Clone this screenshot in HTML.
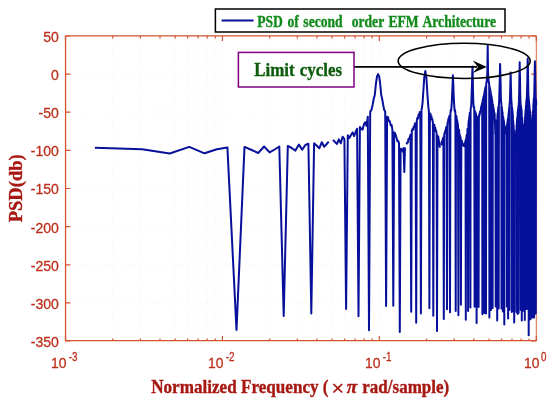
<!DOCTYPE html>
<html><head><meta charset="utf-8"><title>PSD of second order EFM Architecture</title>
<style>
html,body{margin:0;padding:0;background:#fff;}
body{width:550px;height:405px;overflow:hidden;}
svg{display:block;}
.tick text{font-family:"Liberation Sans",Arial,Helvetica,sans-serif;font-size:15.2px;fill:#bd2e1a;stroke:#bd2e1a;stroke-width:.3px;}
.tick .sup{font-size:12.6px;}
.lab{font-family:"Liberation Serif","Times New Roman",Times,serif;font-weight:bold;fill:#a81812;font-size:18px;stroke:#a81812;stroke-width:.35px;}
.leg{font-family:"Liberation Serif","Times New Roman",Times,serif;font-weight:bold;fill:#128a1c;font-size:16px;stroke:#128a1c;stroke-width:.35px;}
.ann{font-family:"Liberation Serif","Times New Roman",Times,serif;font-weight:bold;fill:#0d5c0d;font-size:18.7px;stroke:#0d5c0d;stroke-width:.35px;}
</style></head><body>
<svg width="550" height="405" viewBox="0 0 550 405">
<rect width="550" height="405" fill="#fff"/>
<path d="M112.7 36.0V341.0M140.4 36.0V341.0M160.0 36.0V341.0M175.2 36.0V341.0M187.6 36.0V341.0M198.1 36.0V341.0M207.2 36.0V341.0M215.3 36.0V341.0M222.4 36.0V341.0M269.7 36.0V341.0M297.3 36.0V341.0M316.9 36.0V341.0M332.1 36.0V341.0M344.6 36.0V341.0M355.1 36.0V341.0M364.2 36.0V341.0M372.2 36.0V341.0M379.4 36.0V341.0M426.6 36.0V341.0M454.2 36.0V341.0M473.8 36.0V341.0M489.1 36.0V341.0M501.5 36.0V341.0M512.0 36.0V341.0M521.1 36.0V341.0M529.1 36.0V341.0M65.5 74.1H536.3M65.5 112.2H536.3M65.5 150.4H536.3M65.5 188.5H536.3M65.5 226.6H536.3M65.5 264.8H536.3M65.5 302.9H536.3" stroke="#c8642f" stroke-opacity="0.05" stroke-width="1" stroke-dasharray="1.5 1.5" fill="none"/>
<path d="M65.55 35.8V340.7H536.4" stroke="#d5532f" stroke-width="1.3" fill="none"/>
<path d="M65.55 35.8H536.4" stroke="#d5532f" stroke-width="1.3" fill="none"/>
<path d="M536.4 35.8V340.7" stroke="#d5532f" stroke-opacity="0.7" stroke-width="1.3" fill="none"/>
<path d="M65.5 341.0v-5M65.5 36.0v5M112.7 341.0v-2.5M112.7 36.0v2.5M140.4 341.0v-2.5M140.4 36.0v2.5M160.0 341.0v-2.5M160.0 36.0v2.5M175.2 341.0v-2.5M175.2 36.0v2.5M187.6 341.0v-2.5M187.6 36.0v2.5M198.1 341.0v-2.5M198.1 36.0v2.5M207.2 341.0v-2.5M207.2 36.0v2.5M215.3 341.0v-2.5M215.3 36.0v2.5M222.4 341.0v-5M222.4 36.0v5M269.7 341.0v-2.5M269.7 36.0v2.5M297.3 341.0v-2.5M297.3 36.0v2.5M316.9 341.0v-2.5M316.9 36.0v2.5M332.1 341.0v-2.5M332.1 36.0v2.5M344.6 341.0v-2.5M344.6 36.0v2.5M355.1 341.0v-2.5M355.1 36.0v2.5M364.2 341.0v-2.5M364.2 36.0v2.5M372.2 341.0v-2.5M372.2 36.0v2.5M379.4 341.0v-5M379.4 36.0v5M426.6 341.0v-2.5M426.6 36.0v2.5M454.2 341.0v-2.5M454.2 36.0v2.5M473.8 341.0v-2.5M473.8 36.0v2.5M489.1 341.0v-2.5M489.1 36.0v2.5M501.5 341.0v-2.5M501.5 36.0v2.5M512.0 341.0v-2.5M512.0 36.0v2.5M521.1 341.0v-2.5M521.1 36.0v2.5M529.1 341.0v-2.5M529.1 36.0v2.5M536.3 341.0v-5M536.3 36.0v5M65.5 36.0h5M536.3 36.0h-5M65.5 74.1h5M536.3 74.1h-5M65.5 112.2h5M536.3 112.2h-5M65.5 150.4h5M536.3 150.4h-5M65.5 188.5h5M536.3 188.5h-5M65.5 226.6h5M536.3 226.6h-5M65.5 264.8h5M536.3 264.8h-5M65.5 302.9h5M536.3 302.9h-5M65.5 341.0h5M536.3 341.0h-5" stroke="#d5532f" stroke-width="1.2" fill="none"/>
<path d="M94.9 147.7 L142.1 149.2 L169.7 153.5 L189.3 146.9 L204.5 153.3 L216.9 149.2 L227.4 147.4 L236.5 330.0 L244.5 146.9 L251.7 150.0 L258.2 153.0 L264.1 146.5 L269.6 152.4 L274.6 149.5 L279.3 146.5 L283.7 316.0 L287.8 145.9 L291.7 148.0 L295.4 150.6 L298.9 144.6 L302.2 149.6 L305.4 145.0 L308.4 143.7 L311.3 313.5 L314.1 143.3 L316.8 145.8 L319.3 148.3 L321.8 142.2 L324.2 146.7 L326.5 144.2 L328.7 141.7 M333.0 139.8 L335.0 142.0 L337.0 143.9 L338.9 139.4 L340.8 143.3 L342.6 136.7 L344.4 139.0 L346.1 308.9 L347.8 135.2 L349.4 138.0 L351.0 135.0 L352.6 132.4 L354.1 136.1 L355.6 132.0 L357.1 128.7 L358.5 316.3 L359.9 126.9 L361.3 129.0 L362.6 129.6 L364.0 124.0 L365.3 122.2 L366.5 125.9 L367.8 116.7 L369.0 330.2 L370.2 111.5 L371.4 110.3 L372.6 105.0 L373.7 99.0 L374.8 95.0 L375.9 84.0 L377.0 76.5 L378.1 74.1 L379.2 76.5 L380.2 84.0 L381.2 95.0 L382.2 99.0 L383.2 105.0 L384.2 110.0 L385.2 111.5 L386.1 306.1 L387.1 116.7 L388.0 117.1 L388.9 121.0 L389.8 121.3 L390.7 125.4 L391.6 125.0 L392.4 129.6 L393.3 305.7 L394.2 132.3 L395.0 133.2 L395.8 135.2 L396.6 138.1 L397.4 141.2 L398.2 141.0 L399.0 143.2 L399.8 332.0 L400.6 148.8 L401.3 148.9 L402.1 149.5 L402.8 151.6 L403.6 148.1 L404.3 172.0 L405.0 147.4 M406.4 144.3 L407.1 142.7 L407.8 142.5 L408.5 139.0 L409.2 138.6 L409.8 137.2 L410.5 134.8 L411.2 311.7 L411.8 130.7 L412.5 129.0 L413.1 129.8 L413.7 126.5 L414.4 127.0 L415.0 123.2 L415.6 124.2 L416.2 322.8 L416.8 121.0 L417.4 117.8 L418.0 118.5 L418.6 114.5 L419.2 115.6 L419.8 112.0 L420.3 113.1 L420.9 313.5 L421.5 109.9 L422.0 107.6 L422.6 102.3 L423.1 94.8 L423.7 86.1 L424.2 77.8 L424.8 74.4 L425.3 71.1 L425.8 74.5 L426.4 77.8 L426.9 85.8 L427.4 94.1 L427.9 100.8 L428.4 107.4 L428.9 111.4 L429.4 308.2 L429.9 113.9 L430.4 113.5 L430.9 116.7 L431.4 116.2 L431.9 119.5 L432.4 119.3 L432.9 123.0 L433.3 315.7 L433.8 125.9 L434.3 124.7 L434.7 128.6 L435.2 127.7 L435.7 131.2 L436.1 130.3 L436.6 133.8 L437.0 331.1 L437.5 135.4 L437.9 137.3 L438.3 136.8 L438.8 140.6 L439.2 142.7 L439.6 146.0 L440.1 147.6 M440.9 145.0 L441.4 144.7 L441.8 141.6 L442.2 141.8 L442.6 139.8 L443.0 138.5 L443.4 137.2 L443.8 319.1 L444.2 134.4 L444.6 133.2 L445.0 132.2 L445.4 130.2 L445.8 130.3 L446.2 127.0 L446.6 127.8 L447.0 309.3 L447.4 125.1 L447.8 121.5 L448.1 121.9 L448.5 118.4 L448.9 119.1 L449.3 115.9 L449.7 116.8 L450.0 312.3 L450.4 113.4 L450.8 109.9 L451.1 110.7 L451.5 106.6 L451.8 101.7 L452.2 93.2 L452.6 84.2 L452.9 75.3 L453.3 84.6 L453.6 93.8 L454.0 102.1 L454.3 106.8 L454.7 111.0 L455.0 110.2 L455.4 113.5 L455.7 310.9 L456.0 116.7 L456.4 116.1 L456.7 120.1 L457.1 119.9 L457.4 123.5 L457.7 122.8 L458.0 126.7 L458.4 315.3 L458.7 129.5 L459.0 129.6 L459.3 133.3 L459.7 134.7 L460.0 136.0 L460.3 136.4 L460.6 137.9 L460.9 304.8 L461.3 140.9 L461.6 140.3 L461.9 141.3 L462.2 142.8 L462.5 143.7 L462.8 145.3 L463.1 145.5 M463.7 147.0 L464.0 145.7 L464.3 145.4 L464.6 143.3 L464.9 144.8 L465.2 142.9 L465.5 140.4 L465.8 319.8 L466.1 138.9 L466.4 137.5 L466.7 134.8 L467.0 135.0 L467.3 133.4 L467.5 128.8 L467.8 129.0 L468.1 310.9 L468.4 124.7 L468.7 120.8 L469.0 120.9 L469.2 117.2 L469.5 117.0 L469.8 112.7 L470.1 114.0 L470.4 307.5 L470.6 110.4 L470.9 107.0 L471.2 106.6 L471.4 101.4 L471.7 92.6 L472.0 83.9 L472.2 75.2 L472.5 66.5 L472.8 78.3 L473.0 90.0 L473.3 101.7 L473.6 106.5 L473.8 107.5 L474.1 106.9 L474.3 110.5 L474.6 306.8 L474.9 112.6 L475.1 111.2 L475.4 114.0 L475.6 112.7 L475.9 115.4 L476.1 114.4 L476.4 117.1 L476.6 323.1 L476.9 118.4 L477.1 116.8 L477.4 120.2 L477.6 118.8 L477.9 121.1 L478.1 118.2 L478.4 119.6 L478.6 307.0 L478.9 117.7 L479.1 115.0 L479.3 116.4 L479.6 113.2 L479.8 114.3 L480.1 111.3 L480.3 112.4 M480.8 110.8 L481.0 107.1 L481.2 107.2 L481.5 106.2 L481.7 105.1 L481.9 104.1 L482.2 103.0 L482.4 314.2 L482.6 100.9 L482.9 99.9 L483.1 98.9 L483.3 97.8 L483.5 96.8 L483.8 95.8 L484.0 94.7 L484.2 313.0 L484.4 92.6 L484.7 91.6 L484.9 90.5 L485.1 89.5 L485.3 88.4 L485.5 87.4 L485.8 86.4 L486.0 313.5 L486.2 84.3 L486.4 83.3 L486.6 82.3 L486.9 80.0 L487.1 77.1 L487.3 74.3 L487.5 60.3 L487.7 45.2 L487.9 60.8 L488.1 74.4 L488.3 77.2 L488.6 80.0 L488.8 82.3 L489.0 83.4 L489.2 84.5 L489.4 317.4 L489.6 86.6 L489.8 87.7 L490.0 88.8 L490.2 89.8 L490.4 90.9 L490.6 91.9 L490.8 93.0 L491.0 310.0 L491.2 95.1 L491.4 96.1 L491.6 97.2 L491.8 98.4 L492.0 99.6 L492.2 100.7 L492.4 101.9 L492.6 308.0 L492.8 104.2 L493.0 105.4 L493.2 106.5 L493.4 107.7 L493.6 110.3 L493.8 109.3 L494.0 112.6 M494.4 114.3 L494.6 113.2 L494.8 119.7 L495.0 122.2 L495.2 129.3 L495.3 134.0 L495.5 133.8 L495.7 306.5 L495.9 130.6 L496.1 126.9 L496.3 126.8 L496.5 123.4 L496.7 124.2 L496.9 120.2 L497.0 120.8 L497.2 320.5 L497.4 117.0 L497.6 113.7 L497.8 114.0 L498.0 110.6 L498.1 111.4 L498.3 107.2 L498.5 106.8 L498.7 308.5 L498.9 103.8 L499.1 102.3 L499.2 99.8 L499.4 92.6 L499.6 85.4 L499.8 78.3 L499.9 71.2 L500.1 64.1 L500.3 71.6 L500.5 79.0 L500.7 86.4 L500.8 93.8 L501.0 101.0 L501.2 102.5 L501.4 104.0 L501.5 308.5 L501.7 106.9 L501.9 107.2 L502.0 111.3 L502.2 110.4 L502.4 113.6 L502.6 112.8 L502.7 116.1 L502.9 311.5 L503.1 118.6 L503.2 116.9 L503.4 120.7 L503.6 119.6 L503.7 122.5 L503.9 121.1 L504.1 124.4 L504.3 324.4 L504.4 126.0 L504.6 125.5 L504.8 128.4 L504.9 127.1 L505.1 130.6 L505.2 129.0 L505.4 132.5 M505.7 132.2 L505.9 133.3 L506.1 132.2 L506.2 130.3 L506.4 131.6 L506.5 128.0 L506.7 129.2 L506.9 306.5 L507.0 127.3 L507.2 123.5 L507.4 124.6 L507.5 121.3 L507.7 122.6 L507.8 118.9 L508.0 120.4 L508.1 318.6 L508.3 117.8 L508.5 114.4 L508.6 115.1 L508.8 111.6 L508.9 111.9 L509.1 108.0 L509.2 107.9 L509.4 310.0 L509.5 104.7 L509.7 103.1 L509.9 101.5 L510.0 96.7 L510.2 90.6 L510.3 84.6 L510.5 78.5 L510.6 72.5 L510.8 78.9 L510.9 85.2 L511.1 91.6 L511.2 97.9 L511.4 101.7 L511.5 103.0 L511.7 104.4 L511.8 312.0 L512.0 107.1 L512.1 107.6 L512.3 110.6 L512.4 110.0 L512.6 113.7 L512.7 112.7 L512.9 116.4 L513.0 311.0 L513.2 121.0 L513.3 121.2 L513.4 125.0 L513.6 125.4 L513.7 129.5 L513.9 129.5 L514.0 133.8 L514.2 322.5 L514.3 137.5 L514.5 140.2 L514.6 142.8 L514.7 143.6 L514.9 146.2 L515.0 144.4 L515.2 142.8 M515.5 139.3 L515.6 137.9 L515.7 136.1 L515.9 135.8 L516.0 133.5 L516.2 130.4 L516.3 131.1 L516.4 312.0 L516.6 127.5 L516.7 124.0 L516.9 124.5 L517.0 120.1 L517.1 120.7 L517.3 117.1 L517.4 117.4 L517.6 314.0 L517.7 114.4 L517.8 111.4 L518.0 112.3 L518.1 108.9 L518.2 109.2 L518.4 107.1 L518.5 105.8 L518.6 313.0 L518.8 103.2 L518.9 101.9 L519.0 98.5 L519.2 91.3 L519.3 84.0 L519.4 76.8 L519.6 69.5 L519.7 62.3 L519.8 69.8 L520.0 77.3 L520.1 84.7 L520.2 92.2 L520.4 99.6 L520.5 102.0 L520.6 103.2 L520.8 310.0 L520.9 105.6 L521.0 106.8 L521.2 108.0 L521.3 108.2 L521.4 111.6 L521.6 110.2 L521.7 114.4 L521.8 320.5 L521.9 117.1 L522.1 117.0 L522.2 120.4 L522.3 119.8 L522.5 124.0 L522.6 123.3 L522.7 126.5 L522.8 311.0 L523.0 130.0 L523.1 129.2 L523.2 132.8 L523.3 133.0 L523.5 135.8 L523.6 135.2 L523.7 137.9 M524.0 132.7 L524.1 131.9 L524.2 131.8 L524.3 127.7 L524.5 127.8 L524.6 124.5 L524.7 124.8 L524.8 320.0 L525.0 120.7 L525.1 116.9 L525.2 117.1 L525.3 113.8 L525.5 113.8 L525.6 109.7 L525.7 110.4 L525.8 309.0 L525.9 105.9 L526.1 104.4 L526.2 103.2 L526.3 102.0 L526.4 100.8 L526.5 99.6 L526.7 98.4 L526.8 309.0 L526.9 96.0 L527.0 93.9 L527.1 88.0 L527.3 82.1 L527.4 76.2 L527.5 70.3 L527.6 64.4 L527.7 58.5 L527.9 65.0 L528.0 71.4 L528.1 77.9 L528.2 84.3 L528.3 90.8 L528.4 95.4 L528.6 96.7 L528.7 335.2 L528.8 99.2 L528.9 100.5 L529.0 101.7 L529.1 103.0 L529.3 104.3 L529.4 105.5 L529.5 106.8 L529.6 319.3 L529.7 110.6 L529.8 109.2 L529.9 112.6 L530.1 112.2 L530.2 115.4 L530.3 114.6 L530.4 117.5 L530.5 319.3 L530.6 120.5 L530.7 119.3 L530.9 122.4 L531.0 122.2 L531.1 125.3 L531.2 124.5 L531.3 127.4 M531.5 129.8 L531.6 129.4 L531.8 132.5 L531.9 129.7 L532.0 130.2 L532.1 126.4 L532.2 126.2 L532.3 317.5 L532.4 122.7 L532.5 118.4 L532.6 118.7 L532.7 114.6 L532.9 114.9 L533.0 111.0 L533.1 111.4 L533.2 317.5 L533.3 106.8 L533.4 105.0 L533.5 103.6 L533.6 102.2 L533.7 100.9 L533.8 99.5 L533.9 98.2 L534.1 317.5 L534.2 95.5 L534.3 91.8 L534.4 86.7 L534.5 81.6 L534.6 76.5 L534.7 71.4 L534.8 66.3 L534.9 61.2 L535.0 66.4 L535.1 71.6 L535.2 76.8 L535.3 82.0 L535.4 87.1 L535.5 92.3 L535.6 95.7 L535.8 313.5 L535.9 98.7 L536.0 100.2 L536.1 101.7 L536.2 103.2 L536.3 104.7" fill="none" stroke="#07109a" stroke-width="2" stroke-linejoin="round" stroke-linecap="butt"/>
<g class="tick"><text transform="translate(58.9 41.9) scale(.925 1)" text-anchor="end">50</text><text transform="translate(58.9 80.0) scale(.925 1)" text-anchor="end">0</text><text transform="translate(58.9 118.2) scale(.925 1)" text-anchor="end">-50</text><text transform="translate(58.9 156.3) scale(.925 1)" text-anchor="end">-100</text><text transform="translate(58.9 194.4) scale(.925 1)" text-anchor="end">-150</text><text transform="translate(58.9 232.5) scale(.925 1)" text-anchor="end">-200</text><text transform="translate(58.9 270.6) scale(.925 1)" text-anchor="end">-250</text><text transform="translate(58.9 308.8) scale(.925 1)" text-anchor="end">-300</text><text transform="translate(58.9 346.9) scale(.925 1)" text-anchor="end">-350</text><text transform="translate(51.1 368) scale(.91 1)">10</text><text class="sup" transform="translate(68.8 360.8) scale(.78 1)">-3</text><text transform="translate(208.0 368) scale(.91 1)">10</text><text class="sup" transform="translate(225.7 360.8) scale(.78 1)">-2</text><text transform="translate(365.0 368) scale(.91 1)">10</text><text class="sup" transform="translate(382.7 360.8) scale(.78 1)">-1</text><text transform="translate(524.0 368) scale(.91 1)">10</text><text class="sup" transform="translate(541.0 360.8) scale(.78 1)">0</text></g>
<text class="lab" id="xlab" transform="translate(151.2 393) scale(.951 1)">Normalized Frequency (</text>
<text class="lab" id="xl2" x="337.8" y="396.3" text-anchor="middle" style="font-weight:bold;font-size:24px;stroke:none">×</text>
<text class="lab" id="xl3" x="351.9" y="393" text-anchor="middle" style="font-style:italic;font-size:19px">π</text>
<text class="lab" id="xl4" transform="translate(362.3 393) scale(.945 1)">rad/sample)</text>
<text class="lab" id="ylab" transform="translate(22.2 188.3) rotate(-90)" text-anchor="middle" style="font-size:18.5px">PSD(db)</text>
<rect x="215.4" y="9" width="289.6" height="23" fill="#fff" stroke="#000" stroke-width="1.5"/>
<path d="M221.6 20.6H253.6" stroke="#07109a" stroke-width="2"/>
<text class="leg" id="leg" style="word-spacing:1.4px" transform="translate(257.2 27) scale(.85 1)" xml:space="preserve">PSD of second  order EFM Architecture</text>
<rect x="238.4" y="52.4" width="115.6" height="34.6" fill="#fff" stroke="#800080" stroke-width="1.5"/>
<text class="ann" id="ann" style="word-spacing:1px" transform="translate(254.2 76) scale(.905 1)">Limit cycles</text>
<path d="M354.5 66.9H477" stroke="#000" stroke-width="1.6" fill="none"/>
<path d="M486.8 66.9L472.8 60.6L478 66.9L472.8 73Z" fill="#000"/>
<ellipse cx="464.2" cy="60.9" rx="66" ry="17.6" fill="none" stroke="#000" stroke-width="1.6"/>
</svg>
</body></html>
